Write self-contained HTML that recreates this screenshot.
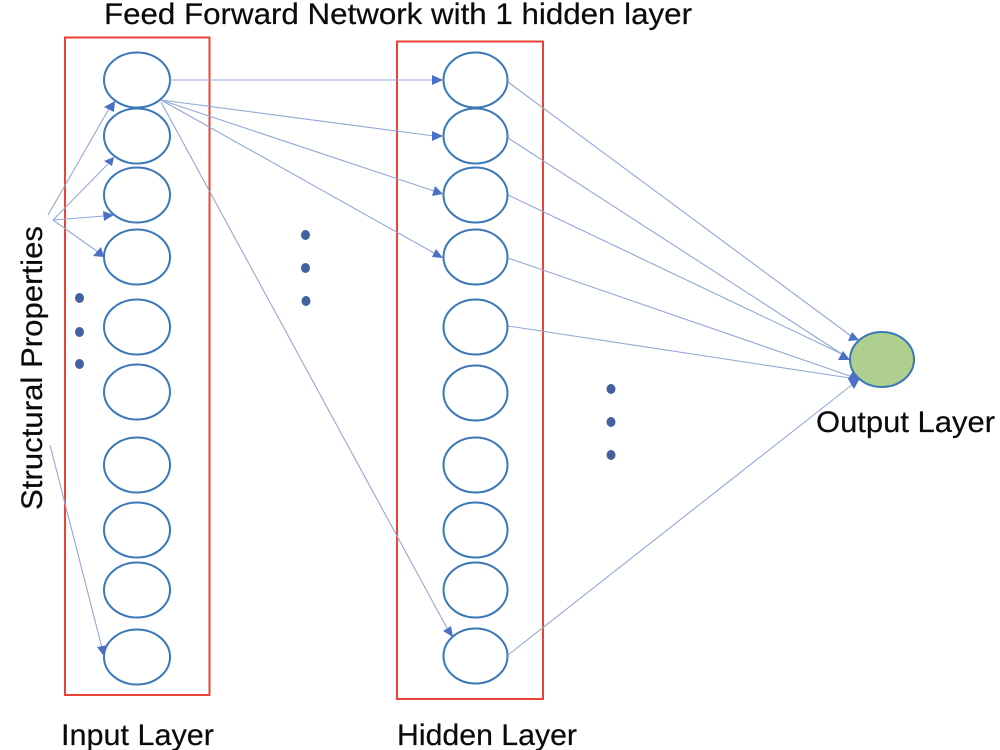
<!DOCTYPE html>
<html>
<head>
<meta charset="utf-8">
<style>
html,body{margin:0;padding:0;background:#fff;width:1000px;height:750px;overflow:hidden}
svg{display:block;filter:blur(0.35px)}
text{font-family:"Liberation Sans",sans-serif;fill:#0a0a0a;font-size:30px;stroke:#0a0a0a;stroke-width:0.2px}
.b{fill:none;stroke:#ea4335;stroke-width:2}
.n{fill:#fff;stroke:#3a78b8;stroke-width:2}
.l{stroke:#93a8d6;stroke-width:1.1;fill:none}
.a{fill:#4a70c4}
.d{fill:#44619f}
</style>
</head>
<body>
<svg width="1000" height="750" viewBox="0 0 1000 750" xmlns="http://www.w3.org/2000/svg">
<text x="104" y="24" textLength="588" lengthAdjust="spacingAndGlyphs">Feed Forward Network with 1 hidden layer</text>
<rect class="b" x="65" y="37.500" width="144.500" height="657.500"/>
<rect class="b" x="397" y="41.500" width="146" height="657.500"/>

<g class="n">
<ellipse cx="137" cy="80" rx="33" ry="27.500"/>
<ellipse cx="137" cy="136" rx="33" ry="27.500"/>
<ellipse cx="137" cy="195" rx="33" ry="27.500"/>
<ellipse cx="137" cy="257" rx="33" ry="27.500"/>
<ellipse cx="137" cy="327" rx="33" ry="27.500"/>
<ellipse cx="137" cy="392" rx="33" ry="27.500"/>
<ellipse cx="137" cy="465" rx="33" ry="27.500"/>
<ellipse cx="137" cy="530" rx="33" ry="27.500"/>
<ellipse cx="137" cy="590" rx="33" ry="27.500"/>
<ellipse cx="137" cy="657" rx="33" ry="27.500"/>
<ellipse cx="475.500" cy="80" rx="32" ry="27.500"/>
<ellipse cx="475.500" cy="136" rx="32" ry="27.500"/>
<ellipse cx="475.500" cy="195" rx="32" ry="27.500"/>
<ellipse cx="475.500" cy="257" rx="32" ry="27.500"/>
<ellipse cx="475.500" cy="327" rx="32" ry="27.500"/>
<ellipse cx="475.500" cy="393" rx="32" ry="27.500"/>
<ellipse cx="475.500" cy="465" rx="32" ry="27.500"/>
<ellipse cx="475.500" cy="530" rx="32" ry="27.500"/>
<ellipse cx="475.500" cy="590" rx="32" ry="27.500"/>
<ellipse cx="475.500" cy="656" rx="32" ry="27.500"/>
</g>
<ellipse cx="882" cy="359.500" rx="32" ry="27.500" fill="#aecf8e" stroke="#3a78b8" stroke-width="2"/>

<g class="l">
<path d="M48 215L110 107"/>
<path d="M53 220L108 164"/>
<path d="M53 220L104 216"/>
<path d="M53 220L98 252"/>
<path d="M50 445L102 648"/>
<path d="M170 80L434 80"/>
<path d="M161 100L434 136"/>
<path d="M161 100L434 191"/>
<path d="M161 100L434 253"/>
<path d="M161 102L447 628"/>
<path d="M508 82L851 336"/>
<path d="M508 138L842 354"/>
<path d="M508 195L842 354"/>
<path d="M508 258L850 376"/>
<path d="M508 326L850 378"/>
<path d="M508 655L853 384"/>
</g>

<g class="a">
<path d="M115 101L104 107L114 112Z"/>
<path d="M114 157L104 161L112 166Z"/>
<path d="M114 215L103 211L104 221Z"/>
<path d="M104 257L93 256L101 247Z"/>
<path d="M103 655L97 647L108 645Z"/>
<path d="M443 80L432 75L432 85Z"/>
<path d="M443 136L432 131L432 141Z"/>
<path d="M443 194L435 186L432 196Z"/>
<path d="M443 258L436 249L432 257Z"/>
<path d="M453 637L443 631L451 626Z"/>
<path d="M859 340L852 332L848 341Z"/>
<path d="M850 360L843 351L838 360Z"/>
<path d="M853 371L848 379L854 389L859 380Z"/>
</g>

<g class="d">
<ellipse cx="79.500" cy="298" rx="4.500" ry="5"/>
<ellipse cx="79.500" cy="332" rx="4.500" ry="5"/>
<ellipse cx="79.500" cy="364" rx="4.500" ry="5"/>
<ellipse cx="305.500" cy="235" rx="4.500" ry="5"/>
<ellipse cx="305.500" cy="268" rx="4.500" ry="5"/>
<ellipse cx="306" cy="301" rx="4.500" ry="5"/>
<ellipse cx="611" cy="389" rx="4.500" ry="5"/>
<ellipse cx="611" cy="422" rx="4.500" ry="5"/>
<ellipse cx="611" cy="455" rx="4.500" ry="5"/>
</g>

<text x="816" y="432" textLength="179" lengthAdjust="spacingAndGlyphs">Output Layer</text>
<text x="61" y="745" textLength="153" lengthAdjust="spacingAndGlyphs">Input Layer</text>
<text x="397" y="745" textLength="180" lengthAdjust="spacingAndGlyphs">Hidden Layer</text>
<text transform="translate(42 510) rotate(-90)" x="0" y="0" textLength="284" lengthAdjust="spacingAndGlyphs">Structural Properties</text>
</svg>
</body>
</html>
